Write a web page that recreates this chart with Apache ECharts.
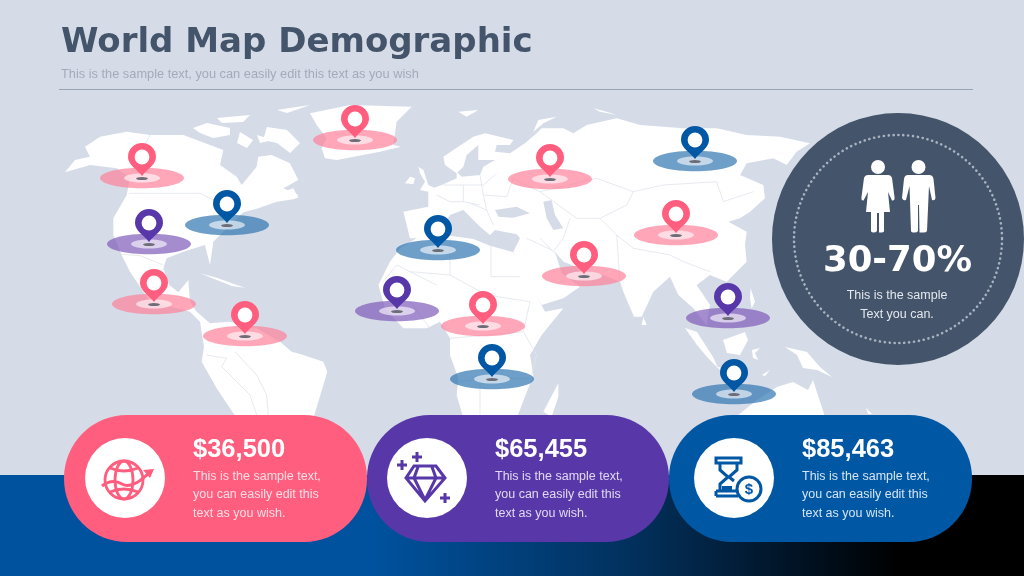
<!DOCTYPE html>
<html><head><meta charset="utf-8">
<style>html,body{margin:0;padding:0;background:#d6dce7}#c{width:1024px;height:576px}</style>
<script src="https://cdn.jsdelivr.net/npm/echarts@6/dist/echarts.min.js"></script>
</head><body><div id="c"></div>
<script>
var titleText = 'World Map Demographic';
var subtitleText = 'This is the sample text, you can easily edit this text as you wish';
var cardValues = ['$36,500', '$65,455', '$85,463'];
var cardText = ['This is the sample text,', 'you can easily edit this', 'text as you wish.'];
var circleValue = '30-70%';
var circleText = ['This is the sample', 'Text you can.'];
// pin anchor points: [x, y, colour index]
var pinPoints = [[142,178,0],[355,140,0],[227,225,2],[149,244,1],[154,304,0],[245,336,0],[397,311,1],[438,250,2],
  [550,179,0],[695,161,2],[676,235,0],[584,276,0],[483,326,0],[728,318,1],[492,379,2],[734,394,2]];
var palette = ['#ff5e7e', '#5838a8', '#0057a4'];
var haloColors = ['#ff7d98', '#7a55b8', '#2a72b0'];
// land outlines; west ones are on the crop origin (50,95), east ones on (430,95), at 3x
var landWest = [
 [[45,232],[75,195],[120,185],[105,155],[150,125],[230,110],[300,120],[400,120],[440,135],[520,165],[510,210],[560,245],[575,270],[620,215],[625,185],[665,180],[720,205],[745,255],[700,280],[745,300],[735,312],[680,320],[625,340],[580,352],[530,400],[490,440],[480,510],[465,450],[400,470],[350,490],[340,520],[358,570],[385,592],[415,555],[420,620],[440,650],[480,685],[540,680],[620,700],[690,740],[725,770],[760,780],[820,800],[832,830],[790,970],[560,970],[500,880],[455,800],[462,755],[450,680],[420,650],[380,640],[300,620],[240,530],[215,480],[190,420],[190,370],[230,300],[240,250],[200,220],[120,210]],
 [[780,55],[900,30],[1085,35],[1040,80],[1030,150],[1052,155],[990,170],[860,195],[825,190],[815,160],[830,130],[800,90]],
 [[450,535],[500,548],[550,566],[585,578],[545,573],[495,553]],
 [[700,290],[730,280],[745,310],[715,305]]
];
var landEast = [
 [[-80,350],[-5,335],[-5,285],[35,270],[80,250],[80,230],[95,245],[150,240],[160,215],[195,195],[145,195],[145,150],[110,180],[100,215],[80,235],[45,210],[40,185],[85,155],[130,125],[165,115],[250,135],[240,150],[200,150],[195,170],[240,175],[285,145],[320,115],[335,100],[400,100],[430,115],[470,90],[560,70],[630,90],[760,100],[860,100],[950,120],[1050,125],[1140,145],[1100,170],[1070,210],[1030,190],[950,205],[930,240],[1000,270],[1005,310],[960,350],[930,370],[895,380],[950,410],[945,450],[950,500],[890,560],[840,540],[800,570],[840,630],[830,690],[790,640],[745,600],[720,545],[670,590],[635,665],[612,665],[580,590],[570,560],[520,540],[450,520],[400,500],[375,470],[395,535],[450,575],[400,610],[335,630],[300,570],[250,470],[270,430],[260,418],[195,405],[180,420],[150,395],[100,345],[60,360],[10,430],[-60,430]],
 [[-155,570],[-120,500],[-90,460],[-40,430],[60,422],[130,432],[180,452],[250,472],[270,505],[325,612],[345,650],[400,640],[335,720],[300,780],[310,840],[260,970],[100,970],[80,900],[85,850],[60,780],[60,730],[30,680],[-10,700],[-80,700],[-135,640]],
 [[340,950],[385,865],[385,905],[365,965]],
 [[-75,265],[-60,245],[-45,250],[-50,268]],
 [[-35,215],[-20,225],[-5,270],[15,280],[-5,290],[-30,285],[-15,260],[-30,235]],
 [[962,580],[975,620],[965,640],[960,610]],
 [[640,665],[650,690],[635,690]],
 [[860,815],[940,830],[870,825]],
 [[310,110],[325,75],[380,65],[340,85]],
 [[490,40],[530,50],[560,60],[510,50]],
 [[85,50],[145,45],[110,65]]
];
// small islands and Australia, in page units
var landIslands = [
 [[193,128],[207,123],[230,128],[230,135],[213,138],[200,133]],
 [[217,118],[250,115],[243,122],[222,123]],
 [[240,132],[253,140],[247,148],[237,143]],
 [[267,127],[287,130],[300,143],[290,153],[277,143],[263,140]],
 [[257,135],[273,140],[260,143]],
 [[277,110],[310,105],[287,113]],
 [[685,328],[697,332],[713,357],[718,368],[708,358],[697,345]],
 [[723,340],[745,332],[748,340],[740,355],[727,353]],
 [[752,350],[760,348],[755,353],[758,360],[753,358]],
 [[785,347],[807,352],[820,367],[832,377],[817,370],[803,368],[797,355]],
 [[762,375],[770,370],[765,376]],
 [[732,420],[757,400],[777,387],[793,382],[808,390],[813,380],[826,420]],
 [[866,408],[872,414],[868,414]]
];
var waterEast = [
 [[195,345],[260,335],[300,355],[250,368],[205,365]],
 [[340,320],[365,315],[375,360],[400,400],[370,405],[350,370]]
];
var bordersWest = [
 [[238,295],[450,295],[490,315],[560,345]],
 [[300,120],[235,250]],
 [[215,478],[270,482],[340,510]],
 [[470,780],[530,790],[515,815],[560,860],[600,900],[620,960]],
 [[555,770],[620,840],[650,900],[655,960]],
 [[1000,560],[1040,510],[1160,570]],
 [[1020,610],[1080,620],[1140,700]]
];
var bordersEast = [
 [[250,250],[330,290],[500,250],[610,290],[700,270],[860,260],[880,320],[970,290]],
 [[610,290],[590,330],[510,370],[560,420],[610,460],[720,480],[760,500],[840,530]],
 [[330,290],[440,370],[510,370]],
 [[420,370],[400,430],[370,470]],
 [[183,450],[183,545],[270,545]],
 [[60,430],[60,540],[170,600],[300,620]],
 [[-60,530],[60,540]],
 [[300,620],[280,710],[320,780],[305,840]],
 [[60,730],[170,720],[280,710]],
 [[80,860],[170,850],[300,850]],
 [[150,850],[150,970]],
 [[40,270],[100,270],[100,320],[150,330]],
 [[150,240],[160,300],[230,305],[250,250]],
 [[100,270],[160,270],[200,235]],
 [[20,300],[60,320],[100,320]],
 [[160,300],[170,345]],
 [[120,325],[170,345],[190,390]],
 [[560,420],[570,560]],
 [[330,430],[400,500]],
 [[290,430],[365,465]]
];
function fromCrop(list, ox) { return list.map(function (poly) { return poly.map(function (p) { return [ox + p[0] / 3, 95 + p[1] / 3]; }); }); }
var land = fromCrop(landWest, 50).concat(fromCrop(landEast, 430), landIslands);
var water = fromCrop(waterEast, 430);
var borders = fromCrop(bordersWest, 50).concat(fromCrop(bordersEast, 430));
var bg = '#d6dce7', slate = '#44546a';
var sans = '"Liberation Sans", Arial, sans-serif';

var cardSpans = [[64,367],[367,669],[669,972]];
var cardTextX = [193, 495, 802];
var cardCircleX = [125, 427, 734];
var textTint = ['#ffdde4', '#e2d8f2', '#d5e5f3'];

function pinItem(params, api) {
  var c = api.coord([api.value(0), api.value(1)]);
  var k = api.value(2), x = c[0], y = c[1];
  return { type: 'group', children: [
    { type: 'ellipse', shape: { cx: x, cy: y, rx: 42, ry: 10.3 }, style: { fill: haloColors[k], opacity: 0.68 } },
    { type: 'ellipse', shape: { cx: x, cy: y, rx: 18, ry: 4.6 }, style: { fill: '#ffffff', opacity: 0.6 } },
    { type: 'ellipse', shape: { cx: x, cy: y + 0.5, rx: 6, ry: 1.6 }, style: { fill: '#6d6d78' } },
    { type: 'path', x: x, y: y, shape: { pathData: 'M0 -2C-5 -9 -14 -13 -14 -21A14 14 0 1 1 14 -21C14 -13 5 -9 0 -2Z' }, style: { fill: palette[k] } },
    { type: 'circle', shape: { cx: x, cy: y - 21, r: 7.4 }, style: { fill: '#fff' } }
  ]};
}
function globeIcon(c) {
  var s = { fill: 'none', stroke: c, lineWidth: 2.8 };
  return { type: 'group', children: [
    { type: 'circle', shape: { cx: 124, cy: 480, r: 19 }, style: s },
    { type: 'ellipse', shape: { cx: 124, cy: 480, rx: 9, ry: 19 }, style: s },
    { type: 'path', shape: { pathData: 'M110 468Q124 474 138 468M110 492Q124 486 138 492' }, style: s },
    { type: 'path', shape: { pathData: 'M102 486Q112 478 122 484T150 472' }, style: { fill: 'none', stroke: c, lineWidth: 3 } },
    { type: 'path', shape: { pathData: 'M154 469L143 470L150 478Z' }, style: { fill: c } }
  ]};
}
function diamondIcon(c) {
  var s = { fill: 'none', stroke: c, lineWidth: 3 };
  function plus(x, y) { return { type: 'path', shape: { pathData: 'M' + (x - 5) + ' ' + y + 'H' + (x + 5) + 'M' + x + ' ' + (y - 5) + 'V' + (y + 5) }, style: s }; }
  return { type: 'group', children: [
    { type: 'path', shape: { pathData: 'M414 466H436L445 478L425 501L406 478ZM406 478H445M418 467L414 478L425 500L436 478L432 467' }, style: s },
    plus(417, 457), plus(402, 465), plus(445, 498)
  ]};
}
function hourglassIcon(c) {
  var s = { fill: 'none', stroke: c, lineWidth: 3 };
  return { type: 'group', children: [
    { type: 'path', shape: { pathData: 'M716 458H741V463H716ZM716 491H738M716 496H738M716 491V496' }, style: s },
    { type: 'path', shape: { pathData: 'M720 463V470L728 477L720 484V491M737 463V470L729 477L734 481' }, style: s },
    { type: 'path', shape: { pathData: 'M722 491V486H732V491Z' }, style: { fill: c } },
    { type: 'circle', shape: { cx: 749, cy: 489, r: 12 }, style: { fill: '#fff', stroke: c, lineWidth: 3 } },
    { type: 'text', x: 749, y: 489.5, style: { text: '$', fill: c, font: 'bold 15px ' + sans, textAlign: 'center', textVerticalAlign: 'middle' } }
  ]};
}
var iconMakers = [globeIcon, diamondIcon, hourglassIcon];

function cardItem(params, api) {
  var i = api.value(0), sp = cardSpans[i];
  var a = api.coord([sp[0], 415]), b = api.coord([sp[1], 542]);
  var children = [
    { type: 'rect', shape: { x: a[0], y: a[1], width: b[0] - a[0], height: b[1] - a[1], r: 63 }, style: { fill: palette[i] } },
    { type: 'circle', shape: { cx: cardCircleX[i], cy: 478, r: 40 }, style: { fill: '#fff' } },
    iconMakers[i](palette[i]),
    { type: 'text', x: cardTextX[i], y: 449.5, style: { text: cardValues[i], fill: '#fff', font: 'bold 25.5px ' + sans, textAlign: 'left', textVerticalAlign: 'middle' } }
  ];
  cardText.forEach(function (t, n) {
    children.push({ type: 'text', x: cardTextX[i], y: 476.5 + n * 18.4, style: { text: t, fill: textTint[i], font: '12.5px ' + sans, textAlign: 'left', textVerticalAlign: 'middle' } });
  });
  return { type: 'group', children: children };
}
function circleItem() {
  return { type: 'group', children: [
    { type: 'circle', shape: { cx: 898, cy: 239, r: 126 }, style: { fill: slate } },
    { type: 'circle', shape: { cx: 898, cy: 239, r: 104 }, style: { fill: 'none', stroke: '#a8b2c0', lineWidth: 2.6, lineDash: [0.1, 4.8], lineCap: 'round' } },
    { type: 'circle', shape: { cx: 878, cy: 167, r: 7 }, style: { fill: '#fff' } },
    { type: 'circle', shape: { cx: 918.5, cy: 167, r: 7 }, style: { fill: '#fff' } },
    { type: 'path', shape: { pathData: 'M868 175L888 175Q891 175 892 178L894.5 197Q895 201 892 200.5L888 192L890 212L884 212L884 231Q884 232.5 880 232.5L879 232.5L879 213L877 213L877 231Q876 232.5 873 232.5Q871 232 871 231L871 212L866 212L868 192L863.5 200.5Q861 201 861.5 197L864 178Q865 175 868 175Z' }, style: { fill: '#fff' } },
    { type: 'path', shape: { pathData: 'M908 175L929 175Q933 175 933.5 179L935.5 198Q935 201 932 200L929 186L927 231Q926 233 922 232.5L919.5 232.5L919 205L918 205L918 231Q917 233 913 232.5Q911 232 911 231L909.5 186L906 200Q903 201 902 198L904 179Q904.5 175 908 175Z' }, style: { fill: '#fff' } },
    { type: 'text', x: 897.5, y: 262, style: { text: circleValue, fill: '#fff', font: 'bold 35.5px "DejaVu Sans"', textAlign: 'center', textVerticalAlign: 'middle' } },
    { type: 'text', x: 897, y: 296, style: { text: circleText[0], fill: '#e4e8ee', font: '12.5px ' + sans, textAlign: 'center', textVerticalAlign: 'middle' } },
    { type: 'text', x: 897, y: 314.5, style: { text: circleText[1], fill: '#e4e8ee', font: '12.5px ' + sans, textAlign: 'center', textVerticalAlign: 'middle' } }
  ]};
}
var chart = echarts.init(document.getElementById('c'), null, { renderer: 'canvas', width: 1024, height: 576 });
chart.setOption({
  animation: false,
  backgroundColor: bg,
  grid: { left: 0, right: 0, top: 0, bottom: 0 },
  xAxis: { type: 'value', min: 0, max: 1024, show: false },
  yAxis: { type: 'value', min: 0, max: 576, inverse: true, show: false },
  title: { text: titleText, subtext: subtitleText, left: 56, top: 21, itemGap: 8,
    textStyle: { fontFamily: '"DejaVu Sans"', fontWeight: 'bold', fontSize: 34, color: slate },
    subtextStyle: { fontFamily: sans, fontSize: 12.8, color: '#a2abba' } },
  graphic: [
    { type: 'line', z: 1, shape: { x1: 59, y1: 89.5, x2: 973, y2: 89.5 }, style: { stroke: '#98a3b5', lineWidth: 1 } },
    { type: 'rect', z: 0, shape: { x: 0, y: 475, width: 1024, height: 101 }, style: { fill: new echarts.graphic.LinearGradient(0, 0, 1, 0, [
      { offset: 0, color: '#00529f' }, { offset: 0.36, color: '#00529f' }, { offset: 0.62, color: '#02305c' }, { offset: 0.88, color: '#000000' }, { offset: 1, color: '#000000' }]) } }
  ],
  series: [
    { type: 'custom', name: 'land', silent: true, z: 2, clip: false, data: land.map(function (p, i) { return [i]; }),
      renderItem: function (params, api) { return { type: 'polygon', shape: { points: land[api.value(0)].map(function (p) { return api.coord(p); }) }, style: { fill: '#fff' } }; } },
    { type: 'custom', name: 'water', silent: true, z: 3, clip: false, data: water.map(function (p, i) { return [i]; }),
      renderItem: function (params, api) { return { type: 'polygon', shape: { points: water[api.value(0)].map(function (p) { return api.coord(p); }) }, style: { fill: bg } }; } },
    { type: 'custom', name: 'borders', silent: true, z: 4, clip: false, data: borders.map(function (p, i) { return [i]; }),
      renderItem: function (params, api) { return { type: 'polyline', shape: { points: borders[api.value(0)].map(function (p) { return api.coord(p); }) }, style: { fill: 'none', stroke: '#dfe3eb', lineWidth: 0.8 } }; } },
    { type: 'custom', name: 'circle', silent: true, z: 5, clip: false, data: [[0]], renderItem: circleItem },
    { type: 'custom', name: 'pins', silent: true, z: 6, clip: false, data: pinPoints, renderItem: pinItem },
    { type: 'custom', name: 'cards', silent: true, z: 7, clip: false, data: cardValues.map(function (v, i) { return [i]; }), renderItem: cardItem }
  ]
});
</script></body></html>
